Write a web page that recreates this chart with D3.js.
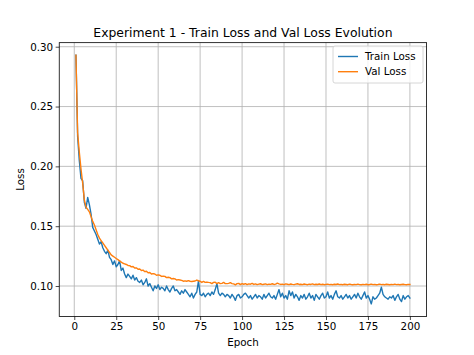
<!DOCTYPE html>
<html>
<head>
<meta charset="utf-8">
<script src="https://cdn.jsdelivr.net/npm/d3@7"></script>
<style>
html,body{margin:0;padding:0;background:#fff;}
svg{display:block;font-family:"DejaVu Sans",sans-serif;}
</style>
</head>
<body>
<svg id="chart" width="474" height="355"></svg>
<script>
const title = "Experiment 1 - Train Loss and Val Loss Evolution";
const xLabel = "Epoch";
const yLabel = "Loss";
const seriesNames = ["Train Loss", "Val Loss"];
const seriesColors = ["#1f77b4", "#ff7f0e"];
const xTicks = [0, 25, 50, 75, 100, 125, 150, 175, 200];
const yTicks = [0.10, 0.15, 0.20, 0.25, 0.30];

const trainLoss = [
0.293,0.225,0.205,0.190,0.188,0.170,0.165,0.174,0.168,0.160,
0.149,0.146,0.143,0.139,0.135,0.137,0.132,0.129,0.127,0.130,
0.124,0.122,0.118,0.121,0.116,0.118,0.121,0.113,0.115,0.110,
0.107,0.110,0.108,0.106,0.109,0.105,0.107,0.104,0.103,0.105,
0.101,0.103,0.106,0.100,0.102,0.099,0.096,0.100,0.098,0.101,
0.097,0.099,0.098,0.096,0.100,0.097,0.095,0.098,0.100,0.096,
0.097,0.095,0.093,0.096,0.094,0.097,0.095,0.093,0.091,0.094,
0.090,0.093,0.095,0.104,0.093,0.092,0.094,0.091,0.093,0.094,
0.092,0.095,0.093,0.097,0.102,0.094,0.092,0.094,0.093,0.091,
0.093,0.092,0.090,0.093,0.091,0.088,0.092,0.093,0.090,0.091,
0.093,0.094,0.092,0.090,0.092,0.089,0.091,0.093,0.090,0.092,
0.091,0.089,0.093,0.090,0.092,0.094,0.091,0.090,0.092,0.089,
0.093,0.097,0.091,0.094,0.090,0.092,0.089,0.096,0.092,0.095,
0.090,0.093,0.091,0.088,0.092,0.090,0.093,0.089,0.091,0.094,
0.090,0.092,0.088,0.093,0.091,0.089,0.092,0.094,0.090,0.091,
0.095,0.090,0.092,0.089,0.093,0.096,0.091,0.090,0.092,0.089,
0.091,0.093,0.090,0.092,0.089,0.091,0.093,0.090,0.094,0.091,
0.089,0.092,0.095,0.090,0.092,0.089,0.085,0.091,0.089,0.090,
0.092,0.094,0.099,0.093,0.091,0.090,0.089,0.091,0.090,0.092,
0.088,0.091,0.093,0.089,0.087,0.092,0.089,0.091,0.092,0.090
];

const valLoss = [
0.293,0.228,0.212,0.198,0.186,0.172,0.166,0.164,0.162,0.158,
0.154,0.151,0.147,0.143,0.140,0.138,0.136,0.134,0.132,0.130,
0.128,0.126,0.125,0.124,0.123,0.122,0.121,0.120,0.119,0.1185,
0.118,0.1172,0.117,0.116,0.1163,0.115,0.1152,0.114,0.1142,0.113,
0.1133,0.112,0.1123,0.111,0.1113,0.110,0.1103,0.110,0.109,0.1093,
0.109,0.108,0.1083,0.108,0.107,0.1073,0.107,0.106,0.1063,0.106,
0.105,0.1053,0.105,0.1047,0.104,0.1043,0.104,0.1045,0.104,0.1038,
0.104,0.1042,0.105,0.1044,0.104,0.103,0.1038,0.103,0.1033,0.103,
0.1028,0.102,0.103,0.1032,0.102,0.1028,0.102,0.1022,0.103,0.102,
0.102,0.1022,0.1028,0.102,0.1018,0.101,0.102,0.1022,0.1012,0.102,
0.1015,0.102,0.1012,0.1018,0.1015,0.1022,0.1013,0.1018,0.1012,0.1016,
0.1019,0.1012,0.1015,0.1018,0.1012,0.1016,0.1014,0.1019,0.1013,0.1016,
0.1024,0.1018,0.1013,0.1016,0.1012,0.1018,0.1015,0.1012,0.1017,0.1014,
0.1012,0.1016,0.1019,0.1013,0.1015,0.1012,0.1017,0.1014,0.1011,0.1016,
0.1013,0.1018,0.1012,0.1015,0.1013,0.1017,0.1012,0.1015,0.1011,0.1014,
0.1016,0.1012,0.1014,0.1011,0.1015,0.1013,0.1017,0.1012,0.1014,0.1011,
0.1015,0.1013,0.1011,0.1016,0.1013,0.1011,0.1014,0.1012,0.1016,0.1012,
0.1011,0.1014,0.1012,0.1015,0.1011,0.1013,0.1016,0.1012,0.1014,0.1011,
0.1013,0.1016,0.1012,0.1014,0.1011,0.1015,0.1013,0.1011,0.1014,0.1012,
0.1016,0.1012,0.1014,0.1011,0.1013,0.1015,0.1012,0.1011,0.1014,0.1013
];

const epochs = d3.range(1, trainLoss.length + 1);
const series = [trainLoss, valLoss];

const W = 474, H = 355;
const m = {left: 59.25, right: 426.6, top: 42.66, bottom: 316.4};
const svg = d3.select("#chart");
svg.append("rect").attr("width", W).attr("height", H).attr("fill", "#fff");

const allVals = trainLoss.concat(valLoss);
const xMin = 1, xMax = epochs.length;
const xPad = (xMax - xMin) * 0.05;
const yMin = d3.min(allVals), yMax = d3.max(allVals);
const yPad = (yMax - yMin) * 0.05;

const x = d3.scaleLinear().domain([xMin - xPad, xMax + xPad]).range([m.left, m.right]);
const y = d3.scaleLinear().domain([yMin - yPad, yMax + yPad]).range([m.bottom, m.top]);

const fs = 10.3;

// grid
const g = svg.append("g");
g.selectAll(".gx").data(xTicks).enter().append("line")
  .attr("x1", d => x(d)).attr("x2", d => x(d))
  .attr("y1", m.top).attr("y2", m.bottom)
  .attr("stroke", "#b0b0b0").attr("stroke-width", 0.8);
g.selectAll(".gy").data(yTicks).enter().append("line")
  .attr("y1", d => y(d)).attr("y2", d => y(d))
  .attr("x1", m.left).attr("x2", m.right)
  .attr("stroke", "#b0b0b0").attr("stroke-width", 0.8);

// lines
const line = d3.line().x((d, i) => x(epochs[i])).y(d => y(d));
svg.append("clipPath").attr("id", "clip").append("rect")
  .attr("x", m.left).attr("y", m.top).attr("width", m.right - m.left).attr("height", m.bottom - m.top);
series.forEach((s, k) => {
  svg.append("path").datum(s)
    .attr("d", line)
    .attr("fill", "none")
    .attr("stroke", seriesColors[k])
    .attr("stroke-width", 1.4)
    .attr("stroke-linejoin", "round")
    .attr("stroke-linecap", "square")
    .attr("clip-path", "url(#clip)");
});

// axes
const xAxis = d3.axisBottom(x).tickValues(xTicks).tickFormat(d3.format("d")).tickSizeInner(3.6).tickSizeOuter(0).tickPadding(2.6);
const yAxis = d3.axisLeft(y).tickValues(yTicks).tickFormat(d3.format(".2f")).tickSizeInner(3.6).tickSizeOuter(0).tickPadding(2.6);
const gx = svg.append("g").attr("transform", `translate(0,${m.bottom})`).call(xAxis);
const gy = svg.append("g").attr("transform", `translate(${m.left},0)`).call(yAxis);
[gx, gy].forEach(a => {
  a.select(".domain").remove();
  a.selectAll("line").attr("stroke", "#000").attr("stroke-width", 0.7);
  a.selectAll("text").attr("fill", "#000").style("font-size", fs + "px").style("font-family", "DejaVu Sans");
});

// frame
svg.append("rect").attr("x", m.left).attr("y", m.top)
  .attr("width", m.right - m.left).attr("height", m.bottom - m.top)
  .attr("fill", "none").attr("stroke", "#000").attr("stroke-width", 0.8);

// labels
svg.append("text").attr("x", (m.left + m.right) / 2).attr("y", 36.5)
  .attr("text-anchor", "middle").style("font-size", "12.4px").attr("fill", "#000").text(title);
svg.append("text").attr("x", (m.left + m.right) / 2).attr("y", 345.5)
  .attr("text-anchor", "middle").style("font-size", fs + "px").attr("fill", "#000").text(xLabel);
svg.append("text").attr("transform", `translate(23.5,${(m.top + m.bottom) / 2}) rotate(-90)`)
  .attr("text-anchor", "middle").style("font-size", fs + "px").attr("fill", "#000").text(yLabel);

// legend
const lg = svg.append("g");
const lx = 333, ly = 46, lw = 90, lh = 37;
lg.append("rect").attr("x", lx).attr("y", ly).attr("width", lw).attr("height", lh)
  .attr("rx", 2).attr("fill", "#fff").attr("fill-opacity", 0.8)
  .attr("stroke", "#cccccc").attr("stroke-width", 0.8);
seriesNames.forEach((n, k) => {
  const yy = ly + 10.5 + k * 15.2;
  lg.append("line").attr("x1", lx + 5).attr("x2", lx + 25).attr("y1", yy).attr("y2", yy)
    .attr("stroke", seriesColors[k]).attr("stroke-width", 1.4);
  lg.append("text").attr("x", lx + 32).attr("y", yy + 3.7)
    .style("font-size", fs + "px").attr("fill", "#000").text(n);
});
</script>
</body>
</html>
